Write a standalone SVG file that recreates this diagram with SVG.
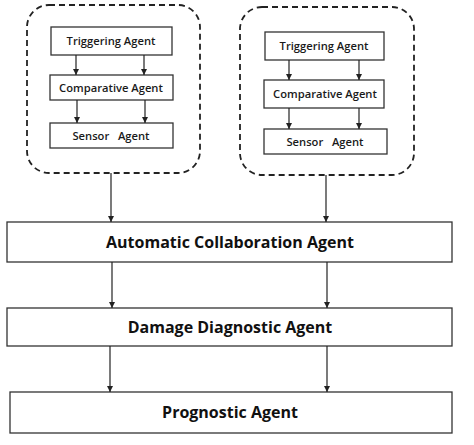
<svg xmlns="http://www.w3.org/2000/svg" width="474" height="445" viewBox="0 0 474 445">
<defs>
<marker id="ah" viewBox="0 0 8 8" refX="8" refY="4" markerWidth="6" markerHeight="6" orient="auto" markerUnits="userSpaceOnUse">
<path d="M0,0 L8,4 L0,8 z" fill="#222"/>
</marker>
<style>
.box{fill:#fff;stroke:#333;stroke-width:1.3}
.grp{fill:none;stroke:#222;stroke-width:1.8;stroke-dasharray:6,4}
.conn line{stroke:#222;stroke-width:1.2;marker-end:url(#ah)}
.s{font-family:"Open Sans","Liberation Sans",sans-serif;font-size:11.2px;font-weight:600;fill:#1a1a1a;text-anchor:middle}
.b{font-family:"Open Sans","Liberation Sans",sans-serif;font-size:16px;font-weight:700;fill:#111;text-anchor:middle}
</style>
</defs>
<rect width="474" height="445" fill="#fff"/>
<g id="group-left"><rect class="grp" x="27" y="5" width="173" height="168" rx="22"/></g>
<g id="group-right"><rect class="grp" x="240" y="7" width="174" height="168" rx="22"/></g>
<g id="trig-left"><rect class="box" x="51" y="27" width="121" height="28"/><text class="s" x="111" y="45">Triggering Agent</text></g>
<g id="comp-left"><rect class="box" x="50" y="75" width="123" height="25"/><text class="s" x="111" y="91.5">Comparative Agent</text></g>
<g id="sens-left"><rect class="box" x="50" y="123" width="123" height="25"/><text class="s" x="111" y="140" xml:space="preserve">Sensor   Agent</text></g>
<g id="trig-right"><rect class="box" x="265" y="32" width="119" height="28"/><text class="s" x="324" y="50">Triggering Agent</text></g>
<g id="comp-right"><rect class="box" x="264" y="80" width="120" height="28"/><text class="s" x="325" y="98">Comparative Agent</text></g>
<g id="sens-right"><rect class="box" x="264" y="129" width="123" height="25"/><text class="s" x="325" y="146" xml:space="preserve">Sensor   Agent</text></g>
<g id="aca"><rect class="box" x="7" y="222" width="445" height="40"/><text class="b" x="230" y="247.5">Automatic Collaboration Agent</text></g>
<g id="dda"><rect class="box" x="7" y="308" width="445" height="38"/><text class="b" x="230" y="332.5">Damage Diagnostic Agent</text></g>
<g id="pa"><rect class="box" x="10" y="392" width="442" height="41"/><text class="b" x="230" y="417.5">Prognostic Agent</text></g>
<g class="conn" id="connectors">
<line x1="76" y1="55" x2="76" y2="75"/>
<line x1="144" y1="55" x2="144" y2="75"/>
<line x1="77" y1="100" x2="77" y2="123"/>
<line x1="145" y1="100" x2="145" y2="123"/>
<line x1="289" y1="60" x2="289" y2="80"/>
<line x1="359" y1="60" x2="359" y2="80"/>
<line x1="289" y1="108" x2="289" y2="129"/>
<line x1="359" y1="108" x2="359" y2="129"/>
<line x1="111" y1="173" x2="111" y2="222"/>
<line x1="326" y1="175" x2="326" y2="222"/>
<line x1="112" y1="262" x2="112" y2="308"/>
<line x1="327" y1="262" x2="327" y2="308"/>
<line x1="110" y1="346" x2="110" y2="392"/>
<line x1="327" y1="346" x2="327" y2="392"/>
</g>
</svg>
